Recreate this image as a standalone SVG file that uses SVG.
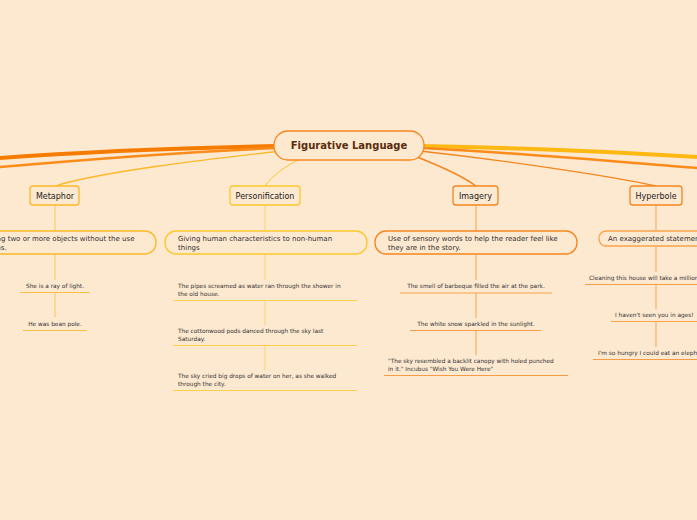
<svg xmlns="http://www.w3.org/2000/svg" width="697" height="520" viewBox="0 0 697 520">
<style>
text{font-family:"DejaVu Sans",Verdana,sans-serif;fill:#333}
.l1{font-size:8px;fill:#222}
.d{font-size:7px}
.lf{font-size:5.8px}
.box{fill:#fde8d0;stroke-width:1.3}
.c{fill:none}
</style>
<rect width="697" height="520" fill="#fde8d0"/>
<g id="connectors" class="c">
<path d="M276,146 C180,148 80,152 0,158" stroke="#f57c00" stroke-width="4"/>
<path d="M276,148 C180,152 80,160 0,167" stroke="#fb8c1a" stroke-width="2.5"/>
<path d="M422,146 C520,148 620,152 697,157" stroke="#fdb812" stroke-width="4"/>
<path d="M422,148 C520,153 620,162 697,168" stroke="#fb8c1a" stroke-width="2.5"/>
<path d="M290,150 C200,160 100,172 55,186" stroke="#fbb929" stroke-width="1.3"/>
<path d="M302,158 C285,166 272,176 265,186" stroke="#fcc72a" stroke-width="1"/>
<path d="M417,157 C440,166 465,178 476,186" stroke="#f5861f" stroke-width="1.5"/>
<path d="M420,151 C520,162 620,178 656,186" stroke="#f5861f" stroke-width="1.3"/>
<g stroke="#fbc55a" stroke-width="1"><path d="M55,205V231M55,254V280M55,293V317"/></g>
<g stroke="#fcc72a" stroke-width="0.6"><path d="M265,205V231M265,254V280M265,300V325M265,345V370"/></g>
<g stroke="#f8a54a" stroke-width="1"><path d="M476,205V231M476,254V280M476,293V318M476,330V355"/></g>
<g stroke="#f8a54a" stroke-width="1"><path d="M656,205V231M656,246V272M656,284V309M656,321V347"/></g>
</g>
<g id="root"><rect x="274" y="131" width="150" height="29" rx="14" class="box" stroke="#f5861f"/><text x="349" y="149" text-anchor="middle" style="font-size:10px;font-weight:bold;fill:#5a2d0c">Figurative Language</text></g>
<g id="metaphor"><rect x="30" y="186" width="49" height="19" rx="3" class="box" stroke="#fbb929"/><text class="l1" x="55" y="198.5" text-anchor="middle">Metaphor</text></g>
<g id="personification"><rect x="230" y="186" width="70" height="19" rx="3" class="box" stroke="#fcc72a"/><text class="l1" x="265" y="198.5" text-anchor="middle">Personification</text></g>
<g id="imagery"><rect x="453" y="186" width="45" height="19" rx="3" class="box" stroke="#f5861f"/><text class="l1" x="475.5" y="198.5" text-anchor="middle">Imagery</text></g>
<g id="hyperbole"><rect x="630" y="186" width="52" height="19" rx="3" class="box" stroke="#f5861f"/><text class="l1" x="656" y="198.5" text-anchor="middle">Hyperbole</text></g>
<g id="metaphor-def"><rect x="-12" y="231" width="168" height="23" rx="11" class="box" stroke="#fbb929"/><text class="d" x="-33" y="241">Comparing two or more objects without the use</text><text class="d" x="-36" y="250">of like or as.</text></g>
<g id="personification-def"><rect x="165" y="231" width="202" height="23" rx="11" class="box" stroke="#fcc72a"/><text class="d" x="178" y="241">Giving human characteristics to non-human</text><text class="d" x="178" y="250">things</text></g>
<g id="imagery-def"><rect x="375" y="231" width="202" height="23" rx="11" class="box" stroke="#f5861f"/><text class="d" x="388" y="241">Use of sensory words to help the reader feel like</text><text class="d" x="388" y="250">they are in the story.</text></g>
<g id="hyperbole-def"><rect x="599" y="231" width="120" height="15" rx="7" class="box" stroke="#f8a54a"/><text class="d" x="608" y="241">An exaggerated statement.</text></g>
<g id="m1"><text class="lf" x="55" y="288" text-anchor="middle">She is a ray of light.</text><path d="M20,292.5H90" stroke="#fbbf45" stroke-width="1"/></g>
<g id="m2"><text class="lf" x="55" y="326" text-anchor="middle">He was bean pole.</text><path d="M23,330.5H87" stroke="#fbbf45" stroke-width="1"/></g>
<g id="p1"><text class="lf" x="178" y="288">The pipes screamed as water ran through the shower in</text><text class="lf" x="178" y="296">the old house.</text><path d="M173,300.5H357" stroke="#fcc72a" stroke-width="0.8"/></g>
<g id="p2"><text class="lf" x="178" y="333">The cottonwood pods danced through the sky last</text><text class="lf" x="178" y="341">Saturday.</text><path d="M173,345.5H357" stroke="#fcc72a" stroke-width="0.8"/></g>
<g id="p3"><text class="lf" x="178" y="378">The sky cried big drops of water on her, as she walked</text><text class="lf" x="178" y="386">through the city.</text><path d="M173,390.5H357" stroke="#fcc72a" stroke-width="0.8"/></g>
<g id="i1"><text class="lf" x="476" y="288" text-anchor="middle">The smell of barbeque filled the air at the park.</text><path d="M400,293H552" stroke="#f8a54a" stroke-width="1"/></g>
<g id="i2"><text class="lf" x="476" y="326" text-anchor="middle">The white snow sparkled in the sunlight.</text><path d="M410,330.5H541" stroke="#f5861f" stroke-width="0.8"/></g>
<g id="i3"><text class="lf" x="388" y="363">"The sky resembled a backlit canopy with holed punched</text><text class="lf" x="388" y="371">in it." Incubus "Wish You Were Here"</text><path d="M384,375.5H568" stroke="#f5861f" stroke-width="0.8"/></g>
<g id="h1"><text class="lf" x="589" y="280">Cleaning this house will take a million years.</text><path d="M585,284.5H705" stroke="#f5861f" stroke-width="0.8"/></g>
<g id="h2"><text class="lf" x="615" y="317">I haven't seen you in ages!</text><path d="M611,321.5H705" stroke="#f8a54a" stroke-width="1"/></g>
<g id="h3"><text class="lf" x="598" y="355">I'm so hungry I could eat an elephant.</text><path d="M593,359.5H705" stroke="#f5861f" stroke-width="0.8"/></g>
</svg>
